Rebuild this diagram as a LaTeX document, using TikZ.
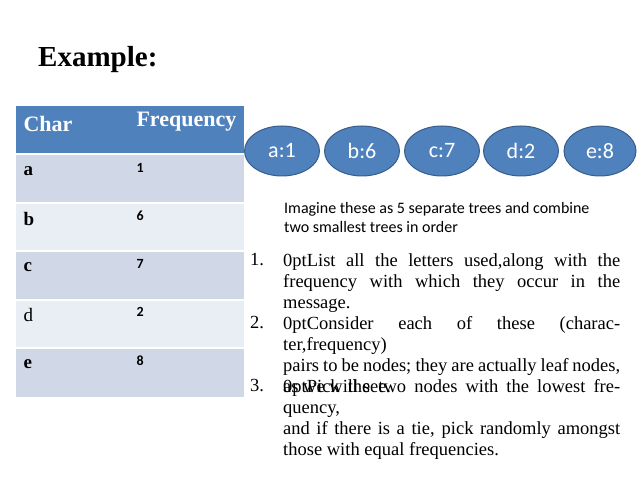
\documentclass[tikz,border=0pt]{standalone}
\usepackage{fontspec}
\setmainfont{Liberation Serif}
\newfontfamily\calib{Carlito}
\usetikzlibrary{shapes.geometric}
\definecolor{hdr}{HTML}{4F81BD}
\definecolor{rowA}{HTML}{D0D8E8}
\definecolor{rowB}{HTML}{E9EDF4}
\definecolor{edge}{HTML}{385D8A}
\tikzset{
  leaf/.style={ellipse,draw=edge,line width=1pt,fill=hdr,minimum width=75pt,minimum height=50pt,text=white,font=\calib\fontsize{22}{24}\selectfont},
  hcell/.style={anchor=west,text=white,font=\bfseries\fontsize{22}{24}\selectfont},
  ccell/.style={anchor=west,font=\bfseries\fontsize{19}{22}\selectfont},
  fcell/.style={anchor=west,font=\calib\bfseries\fontsize{14}{15}\selectfont},
  num/.style={anchor=north west,inner sep=0pt,font=\fontsize{18.5}{21}\selectfont},
  item/.style={anchor=north west,inner sep=0pt,text width=337pt,align=justify,font=\fontsize{18.5}{21}\selectfont\lefthyphenmin=64 }
}
\begin{document}
\begin{tikzpicture}[x=1pt,y=-1pt]
\useasboundingbox[fill=white] (0,0) rectangle (638,478);
\node[anchor=west,inner sep=0pt,font=\bfseries\fontsize{29}{32}\selectfont] (title) at (38,60) {Example:};
% table
\fill[hdr] (16,106) rectangle (244,154);
\fill[rowA] (16,154) rectangle (244,203);
\fill[rowB] (16,203) rectangle (244,251);
\fill[rowA] (16,251) rectangle (244,300);
\fill[rowB] (16,300) rectangle (244,348);
\fill[rowA] (16,348) rectangle (244,397);
\draw[white,line width=1.5pt] (16,154)--(244,154) (16,203)--(244,203) (16,251)--(244,251) (16,300)--(244,300) (16,348)--(244,348);
\node[hcell] (h1) at (20,124) {Char};
\node[hcell] (h2) at (133,122) {Frequency};
\node[ccell] (ca) at (20,171) {a};
\node[ccell] (cb) at (20,219) {b};
\node[ccell] (cc) at (20,267) {c};
\node[ccell,font=\fontsize{19}{22}\selectfont] (cd) at (20,315) {d};
\node[ccell] (ce) at (20,364) {e};
\node[fcell] (fa) at (133,168) {1};
\node[fcell] (fb) at (133,216) {6};
\node[fcell] (fc) at (133,264) {7};
\node[fcell] (fd) at (133,312) {2};
\node[fcell] (fe) at (133,361) {8};
% leaves
\node[leaf] (a) at (282,151) {a:1};
\node[leaf] (b) at (362,151) {b:6};
\node[leaf] (c) at (442,151) {c:7};
\node[leaf] (d) at (521,151) {d:2};
\node[leaf,minimum width=72pt] (e) at (600,151) {e:8};
\node[anchor=north west,inner sep=0pt,align=left,font=\calib\fontsize{16}{19}\selectfont] (note) at (284,202) {Imagine these as 5 separate trees and combine\\two smallest trees in order};
\node[num] (n1) at (250,253) {1.};
\node[item] (i1) at (283,253) {List all the letters used,along with the\linebreak frequency with which they occur in the\linebreak message.};
\node[num] (n2) at (250,316) {2.};
\node[item] (i2) at (283,316) {Consider each of these (character,frequency)\linebreak pairs to be nodes; they are actually leaf nodes,\linebreak as we will see.};
\node[num] (n3) at (250,379) {3.};
\node[item] (i3) at (283,379) {Pick the two nodes with the lowest frequency,\linebreak and if there is a tie, pick randomly amongst\linebreak those with equal frequencies.};
\end{tikzpicture}
\end{document}
